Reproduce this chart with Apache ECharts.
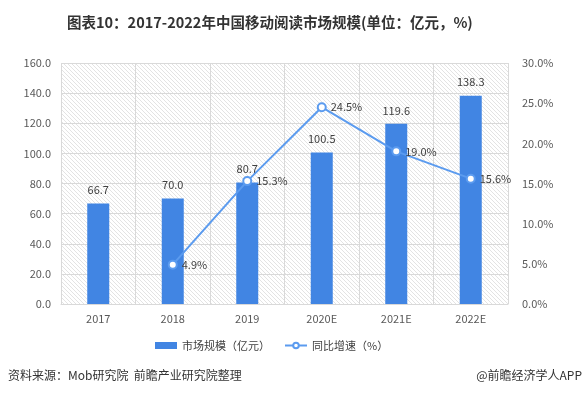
<!DOCTYPE html>
<html>
<head>
    <meta charset="UTF-8">
    <style type="text/css">
        html, body { margin: 0; padding: 0; background: #fff; }
        #chart { width: 583px; height: 396px; }
    </style>
</head>
<body>
    <div id="chart"></div>
    <script src="https://cdn.jsdelivr.net/npm/echarts@6/dist/echarts.min.js"></script>
    <script type="text/javascript">
        'use strict';
        var categories = ['2017', '2018', '2019', '2020E', '2021E', '2022E'];
        var marketSize = [66.7, 70.0, 80.7, 100.5, 119.6, 138.3];
        var growthRate = [null, 4.9, 15.3, 24.5, 19.0, 15.6];

        // hatched background of the plot area
        var hatch = document.createElement('canvas');
        hatch.width = 4;
        hatch.height = 4;
        var hc = hatch.getContext('2d');
        hc.fillStyle = '#ffffff';
        hc.fillRect(0, 0, 4, 4);
        hc.strokeStyle = '#e3e3e3';
        hc.lineWidth = 1;
        hc.beginPath();
        hc.moveTo(0, 0); hc.lineTo(4, 4);
        hc.moveTo(-1, 3); hc.lineTo(1, 5);
        hc.moveTo(3, -1); hc.lineTo(5, 1);
        hc.stroke();

        var font = '"Microsoft YaHei", "Noto Sans CJK SC", sans-serif';
        var chart = echarts.init(document.getElementById('chart'));
        chart.setOption({
            animation: false,
            textStyle: { fontFamily: font },
            title: {
                text: '图表10：2017-2022年中国移动阅读市场规模(单位：亿元，%)',
                left: 62,
                top: 10,
                textStyle: { fontSize: 14.5, fontWeight: 'bold', color: '#333', fontFamily: font }
            },
            legend: {
                bottom: 40,
                left: 150,
                itemGap: 14,
                itemWidth: 22,
                itemHeight: 7,
                textStyle: { fontSize: 11, color: '#404040' },
                data: [
                    { name: '市场规模（亿元）', icon: 'rect' },
                    { name: '同比增速（%）' }
                ]
            },
            grid: {
                left: 61,
                right: 75,
                top: 63,
                bottom: 92,
                show: true,
                borderWidth: 0,
                backgroundColor: { image: hatch, repeat: 'repeat' }
            },
            xAxis: {
                type: 'category',
                data: categories,
                axisTick: { show: false },
                axisLine: { lineStyle: { color: '#d9d9d9' } },
                axisLabel: { color: '#595959', fontSize: 11, margin: 9 },
                splitLine: { show: true, lineStyle: { color: '#d9d9d9' } }
            },
            yAxis: [
                {
                    type: 'value',
                    min: 0,
                    max: 160,
                    interval: 20,
                    axisLabel: { color: '#595959', fontSize: 11, margin: 10, formatter: function (v) { return v.toFixed(1); } },
                    axisLine: { show: false },
                    axisTick: { show: false },
                    splitLine: { lineStyle: { color: '#d9d9d9' } }
                },
                {
                    type: 'value',
                    min: 0,
                    max: 30,
                    interval: 5,
                    axisLabel: { color: '#595959', fontSize: 11, margin: 14, formatter: function (v) { return v.toFixed(1) + '%'; } },
                    axisLine: { show: false },
                    axisTick: { show: false },
                    splitLine: { show: false }
                }
            ],
            series: [
                {
                    name: '市场规模（亿元）',
                    type: 'bar',
                    data: marketSize,
                    barWidth: 22,
                    itemStyle: { color: '#4185e3' },
                    label: {
                        show: true,
                        position: 'top',
                        distance: 8,
                        color: '#404040',
                        fontSize: 11,
                        formatter: function (p) { return p.value.toFixed(1); }
                    }
                },
                {
                    name: '同比增速（%）',
                    type: 'line',
                    yAxisIndex: 1,
                    data: growthRate,
                    symbol: 'circle',
                    symbolSize: 8,
                    lineStyle: { color: '#5b9bef', width: 2 },
                    itemStyle: { color: '#ffffff', borderColor: '#5b9bef', borderWidth: 2 },
                    label: {
                        show: true,
                        position: 'right',
                        distance: 4,
                        color: '#404040',
                        fontSize: 11,
                        formatter: function (p) { return p.value.toFixed(1) + '%'; }
                    }
                }
            ],
            graphic: [
                {
                    type: 'text',
                    left: 8,
                    top: 369,
                    style: { text: '资料来源：Mob研究院  前瞻产业研究院整理', fontSize: 12, fill: '#333', fontFamily: font }
                },
                {
                    type: 'text',
                    right: 1,
                    top: 369,
                    style: { text: '@前瞻经济学人APP', fontSize: 12, fill: '#333', fontFamily: font }
                }
            ]
        });
    </script>
</body>
</html>
